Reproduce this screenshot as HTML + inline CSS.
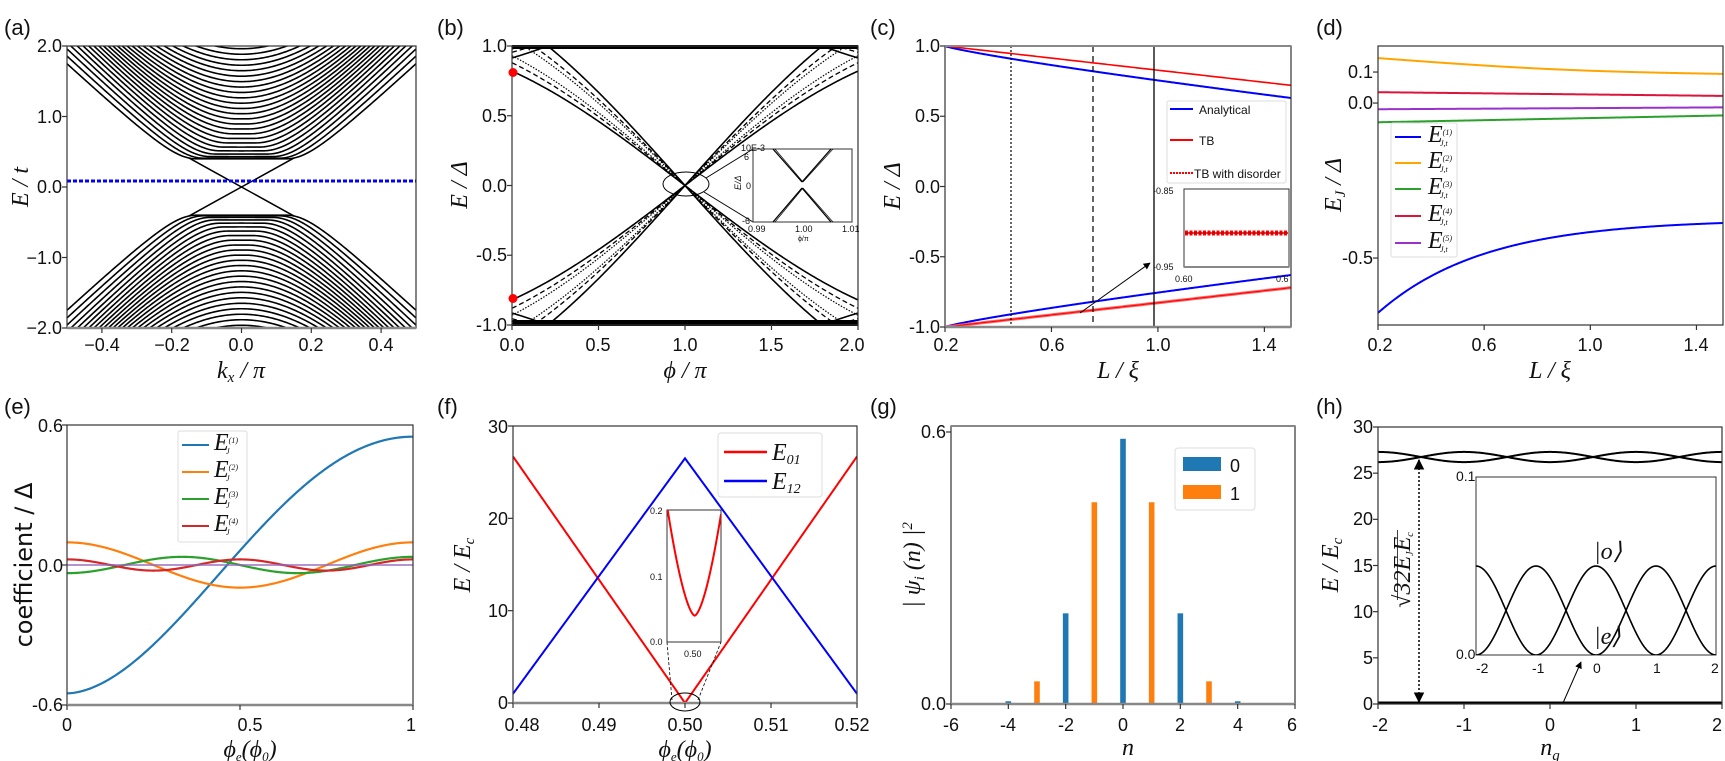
<!DOCTYPE html>
<html><head><meta charset="utf-8"><style>
html,body{margin:0;padding:0;background:#fff;}
svg{display:block;}
.t{font-family:"Liberation Sans Narrow","Liberation Sans",sans-serif;font-size:18px;fill:#111;}
.ts{font-family:"Liberation Sans Narrow","Liberation Sans",sans-serif;font-size:9px;fill:#111;}
.m{font-family:"Liberation Serif",serif;font-style:italic;font-size:24px;fill:#111;}
.pl{font-family:"Liberation Sans",sans-serif;font-size:22px;fill:#111;}
.lg{font-family:"Liberation Sans Narrow","Liberation Sans",sans-serif;font-size:12px;fill:#111;}
</style></head><body>
<svg id="s" width="1725" height="761" viewBox="0 0 1725 761" xmlns="http://www.w3.org/2000/svg">
<defs>
<clipPath id="ca"><rect x="67" y="46" width="349" height="282"/></clipPath>
<clipPath id="cb"><rect x="512" y="46" width="346" height="279"/></clipPath>
<clipPath id="cc"><rect x="945" y="46" width="346" height="281"/></clipPath>
<clipPath id="cd"><rect x="1378" y="46" width="345" height="279"/></clipPath>
<clipPath id="ce"><rect x="67" y="425" width="346" height="280"/></clipPath>
<clipPath id="cf"><rect x="513" y="426" width="344" height="277"/></clipPath>
<clipPath id="cg"><rect x="951" y="426" width="344" height="278"/></clipPath>
<clipPath id="ch"><rect x="1378" y="427" width="344" height="277"/></clipPath>
<clipPath id="cbi"><rect x="753" y="149" width="99" height="73"/></clipPath>
<clipPath id="cfi"><rect x="667" y="510" width="54" height="132"/></clipPath>
<clipPath id="chi"><rect x="1476" y="477" width="240" height="178"/></clipPath>
<marker id="ah" viewBox="0 0 10 10" refX="9" refY="5" markerWidth="7" markerHeight="7" orient="auto-start-reverse"><path d="M0,0 L10,5 L0,10 z" fill="#000"/></marker>
</defs>
<g id="curves"></g>

<text class="pl" x="4" y="35">(a)</text>
<text class="pl" x="437" y="35">(b)</text>
<text class="pl" x="870" y="35">(c)</text>
<text class="pl" x="1316" y="35">(d)</text>
<text class="pl" x="4" y="414">(e)</text>
<text class="pl" x="437" y="414">(f)</text>
<text class="pl" x="870" y="414">(g)</text>
<text class="pl" x="1316" y="414">(h)</text>

<g class="t" text-anchor="end">
<text x="62" y="52">2.0</text><text x="62" y="123">1.0</text><text x="62" y="193">0.0</text><text x="62" y="264">−1.0</text><text x="62" y="334">−2.0</text>
</g>
<g class="t" text-anchor="middle">
<text x="102" y="351">−0.4</text><text x="172" y="351">−0.2</text><text x="241" y="351">0.0</text><text x="311" y="351">0.2</text><text x="381" y="351">0.4</text>
</g>
<text class="m" transform="translate(28,187) rotate(-90)" text-anchor="middle">E / t</text>
<text class="m" x="241" y="378" text-anchor="middle">k<tspan font-size="15" dy="4">x</tspan><tspan dy="-4"> / π</tspan></text>

<g class="t" text-anchor="end">
<text x="507" y="52">1.0</text><text x="507" y="122">0.5</text><text x="507" y="192">0.0</text><text x="507" y="261">-0.5</text><text x="507" y="331">-1.0</text>
</g>
<g class="t" text-anchor="middle">
<text x="512" y="351">0.0</text><text x="598" y="351">0.5</text><text x="685" y="351">1.0</text><text x="771" y="351">1.5</text><text x="852" y="351">2.0</text>
</g>
<text class="m" transform="translate(467,185) rotate(-90)" text-anchor="middle">E / Δ</text>
<text class="m" x="685" y="378" text-anchor="middle">ϕ / π</text>

<g class="t" text-anchor="end">
<text x="940" y="52">1.0</text><text x="940" y="122">0.5</text><text x="940" y="193">0.0</text><text x="940" y="263">-0.5</text><text x="940" y="333">-1.0</text>
</g>
<g class="t" text-anchor="middle">
<text x="946" y="351">0.2</text><text x="1052" y="351">0.6</text><text x="1158" y="351">1.0</text><text x="1264" y="351">1.4</text>
</g>
<text class="m" transform="translate(900,186) rotate(-90)" text-anchor="middle">E / Δ</text>
<text class="m" x="1118" y="378" text-anchor="middle">L / ξ</text>

<g class="t" text-anchor="end">
<text x="1373" y="78">0.1</text><text x="1373" y="109">0.0</text><text x="1373" y="264">-0.5</text>
</g>
<g class="t" text-anchor="middle">
<text x="1380" y="351">0.2</text><text x="1484" y="351">0.6</text><text x="1590" y="351">1.0</text><text x="1696" y="351">1.4</text>
</g>
<text class="m" transform="translate(1341,185) rotate(-90)" text-anchor="middle">E<tspan font-size="15" dy="4">J</tspan><tspan dy="-4"> / Δ</tspan></text>
<text class="m" x="1550" y="378" text-anchor="middle">L / ξ</text>

<g class="t" text-anchor="end">
<text x="63" y="432">0.6</text><text x="63" y="572">0.0</text><text x="63" y="711">-0.6</text>
</g>
<g class="t" text-anchor="middle">
<text x="67" y="731">0</text><text x="250" y="731">0.5</text><text x="411" y="731">1</text>
</g>
<text x="0" y="0" transform="translate(32,565) rotate(-90)" text-anchor="middle" style="font-family:'DejaVu Sans',sans-serif;font-size:24px;fill:#111">coefficient / Δ</text>
<text class="m" x="250" y="757" text-anchor="middle" font-size="20">ϕ<tspan font-size="13" dy="4">e</tspan><tspan dy="-4">(ϕ</tspan><tspan font-size="13" dy="4">0</tspan><tspan dy="-4">)</tspan></text>

<g class="t" text-anchor="end">
<text x="508" y="433">30</text><text x="508" y="617">10</text><text x="508" y="525">20</text><text x="508" y="709">0</text>
</g>
<g class="t" text-anchor="middle">
<text x="522" y="731">0.48</text><text x="599" y="731">0.49</text><text x="685" y="731">0.50</text><text x="771" y="731">0.51</text><text x="852" y="731">0.52</text>
</g>
<text class="m" transform="translate(470,565) rotate(-90)" text-anchor="middle">E / E<tspan font-size="15" dy="4">c</tspan></text>
<text class="m" x="685" y="757" text-anchor="middle" font-size="20">ϕ<tspan font-size="13" dy="4">e</tspan><tspan dy="-4">(ϕ</tspan><tspan font-size="13" dy="4">0</tspan><tspan dy="-4">)</tspan></text>

<g class="t" text-anchor="end">
<text x="946" y="438">0.6</text><text x="946" y="710">0.0</text>
</g>
<g class="t" text-anchor="middle">
<text x="951" y="731">-6</text><text x="1008" y="731">-4</text><text x="1066" y="731">-2</text><text x="1123" y="731">0</text><text x="1180" y="731">2</text><text x="1238" y="731">4</text><text x="1292" y="731">6</text>
</g>
<text class="m" transform="translate(920,565) rotate(-90)" text-anchor="middle">| ψ<tspan font-size="15" dy="4">i</tspan><tspan dy="-4"> (n) |</tspan><tspan font-size="15" dy="-8">2</tspan></text>
<text class="m" x="1128" y="755" text-anchor="middle" font-size="36">n</text>

<g class="t" text-anchor="end">
<text x="1373" y="433">30</text><text x="1373" y="479">25</text><text x="1373" y="525">20</text><text x="1373" y="572">15</text><text x="1373" y="618">10</text><text x="1373" y="664">5</text><text x="1373" y="710">0</text>
</g>
<g class="t" text-anchor="middle">
<text x="1380" y="731">-2</text><text x="1464" y="731">-1</text><text x="1550" y="731">0</text><text x="1636" y="731">1</text><text x="1717" y="731">2</text>
</g>
<text class="m" transform="translate(1338,565) rotate(-90)" text-anchor="middle">E / E<tspan font-size="15" dy="4">c</tspan></text>
<text class="m" x="1550" y="755" text-anchor="middle">n<tspan font-size="15" dy="5">g</tspan></text>
<text class="m" font-size="15" transform="translate(1410,570) rotate(-90)" text-anchor="middle">√32E<tspan font-size="10" dy="3">J</tspan><tspan dy="-3">E</tspan><tspan font-size="10" dy="3">c</tspan></text>
<line x1="1397.5" y1="530" x2="1397.5" y2="600" stroke="#111" stroke-width="0.8"/>

<g class="ts">
<text x="741" y="151">10E-3</text>
<text x="744" y="160">6</text><text x="746" y="189">0</text><text x="742" y="224">-6</text>
<text x="748" y="232">0.99</text><text x="795" y="232">1.00</text><text x="842" y="232">1.01</text>
<text x="798" y="241" font-size="7">ϕ/π</text>
<text x="736" y="195" font-size="9" transform="rotate(-90 736 190)" font-style="italic">E/Δ</text>
<text x="1153" y="194">-0.85</text><text x="1153" y="270">-0.95</text>
<text x="1175" y="282">0.60</text><text x="1276" y="282">0.6</text>
<text x="650" y="514">0.2</text><text x="650" y="580">0.1</text><text x="650" y="645">0.0</text><text x="684" y="657">0.50</text>
</g>
<g class="t" style="font-size:14px">
<text x="1456" y="481">0.1</text><text x="1456" y="659">0.0</text>
<text x="1476" y="673">-2</text><text x="1532" y="673">-1</text><text x="1593" y="673">0</text><text x="1653" y="673">1</text><text x="1711" y="673">2</text>
</g>
<text class="m" x="1594" y="559" font-size="11">|o⟩</text>
<text class="m" x="1594" y="644" font-size="11">|e⟩</text>

<rect x="1167" y="101" width="119" height="82" fill="#fff" stroke="#ddd" rx="2"/>
<line x1="1170" y1="109" x2="1193" y2="109" stroke="#0000ff" stroke-width="2"/>
<line x1="1170" y1="140" x2="1193" y2="140" stroke="#ff0000" stroke-width="2"/>
<line x1="1170" y1="173" x2="1193" y2="173" stroke="#ff0000" stroke-width="2" stroke-dasharray="2,1"/>
<text class="lg" x="1199" y="114">Analytical</text>
<text class="lg" x="1199" y="145">TB</text>
<text class="lg" x="1194" y="178">TB with disorder</text>

<rect x="1391" y="123" width="66" height="134" fill="#fff" stroke="#ddd" rx="2"/>
<g stroke-width="2">
<line x1="1395" y1="137" x2="1421" y2="137" stroke="#0000ff"/>
<line x1="1395" y1="163" x2="1421" y2="163" stroke="#ffa500"/>
<line x1="1395" y1="189" x2="1421" y2="189" stroke="#2ca02c"/>
<line x1="1395" y1="216" x2="1421" y2="216" stroke="#dc143c"/>
<line x1="1395" y1="243" x2="1421" y2="243" stroke="#9932cc"/>
</g>
<g class="m" font-size="13">
<text x="1428" y="142">E<tspan font-size="8" dy="-7">(1)</tspan><tspan font-size="8" dx="-12" dy="11">J,t</tspan></text>
<text x="1428" y="168">E<tspan font-size="8" dy="-7">(2)</tspan><tspan font-size="8" dx="-12" dy="11">J,t</tspan></text>
<text x="1428" y="194">E<tspan font-size="8" dy="-7">(3)</tspan><tspan font-size="8" dx="-12" dy="11">J,t</tspan></text>
<text x="1428" y="221">E<tspan font-size="8" dy="-7">(4)</tspan><tspan font-size="8" dx="-12" dy="11">J,t</tspan></text>
<text x="1428" y="248">E<tspan font-size="8" dy="-7">(5)</tspan><tspan font-size="8" dx="-12" dy="11">J,t</tspan></text>
</g>

<rect x="178" y="431" width="69" height="111" fill="#fff" stroke="#ddd" rx="2"/>
<g stroke-width="2">
<line x1="182" y1="445" x2="209" y2="445" stroke="#1f77b4"/>
<line x1="182" y1="472" x2="209" y2="472" stroke="#ff7f0e"/>
<line x1="182" y1="499" x2="209" y2="499" stroke="#2ca02c"/>
<line x1="182" y1="526" x2="209" y2="526" stroke="#d62728"/>
</g>
<g class="m" font-size="13">
<text x="214" y="450">E<tspan font-size="8" dy="-7">(1)</tspan><tspan font-size="8" dx="-12" dy="11">J</tspan></text>
<text x="214" y="477">E<tspan font-size="8" dy="-7">(2)</tspan><tspan font-size="8" dx="-12" dy="11">J</tspan></text>
<text x="214" y="504">E<tspan font-size="8" dy="-7">(3)</tspan><tspan font-size="8" dx="-12" dy="11">J</tspan></text>
<text x="214" y="531">E<tspan font-size="8" dy="-7">(4)</tspan><tspan font-size="8" dx="-12" dy="11">J</tspan></text>
</g>

<rect x="718" y="433" width="104" height="64" fill="#fff" stroke="#ddd" rx="3"/>
<line x1="724" y1="452" x2="767" y2="452" stroke="#ff0000" stroke-width="2.5"/>
<line x1="724" y1="481" x2="767" y2="481" stroke="#0000ff" stroke-width="2.5"/>
<text class="m" x="772" y="460" font-size="21">E<tspan font-size="14" dy="4">01</tspan></text>
<text class="m" x="772" y="489" font-size="21">E<tspan font-size="14" dy="4">12</tspan></text>

<rect x="1175" y="448" width="80" height="62" fill="#fff" stroke="#ddd" rx="3"/>
<rect x="1183" y="457" width="38" height="14" fill="#1f77b4"/>
<rect x="1183" y="485" width="38" height="14" fill="#ff7f0e"/>
<text class="t" x="1230" y="472" font-size="22">0</text>
<text class="t" x="1230" y="500" font-size="22">1</text>
</svg>
<script>
const NS="http://www.w3.org/2000/svg";
const G=document.getElementById('curves');
const P={
a:[67,416,46,328,-0.5,0.5,-2,2],
b:[512,858,46,325,0,2,-1,1],
c:[945,1291,46,327,0.2,1.5,-1,1],
d:[1378,1723,46,325,0.2,1.5,-0.716,0.184],
e:[67,413,425,705,0,1,-0.6,0.6],
f:[513,857,426,703,0.48,0.52,0,30],
g:[951,1295,426,704,-6,6,0,0.6132],
h:[1378,1722,427,704,-2,2,0,30],
bi:[753,852,149,222,0.99,1.01,-6,6],
ci:[1184,1289,189,267,0.6,0.61,-0.95,-0.85],
fi:[667,721,510,642,0.498,0.502,0,0.2],
hi:[1476,1716,477,655,-2,2,0,0.1]};
function X(p,x){const q=P[p];return q[0]+(x-q[4])/(q[5]-q[4])*(q[1]-q[0]);}
function Y(p,y){const q=P[p];return q[3]-(y-q[6])/(q[7]-q[6])*(q[3]-q[2]);}
function el(t,a,par){const e=document.createElementNS(NS,t);for(const k in a)e.setAttribute(k,a[k]);(par||G).appendChild(e);return e;}
function curve(p,f,x0,x1,attrs,clip,N){N=N||300;let d='';for(let i=0;i<=N;i++){const x=x0+(x1-x0)*i/N;const y=f(x);d+=(i?'L':'M')+X(p,x).toFixed(2)+','+Y(p,y).toFixed(2);}
 const a=Object.assign({d:d,fill:'none'},attrs);if(clip)a['clip-path']='url(#'+clip+')';return el('path',a);}
function line(x1,y1,x2,y2,a){return el('line',Object.assign({x1,y1,x2,y2},a));}
function box(p,col,bottomGray){const q=P[p];el('rect',{x:q[0],y:q[2],width:q[1]-q[0],height:q[3]-q[2],fill:'none',stroke:col||'#333','stroke-width':1.2});
 if(bottomGray)line(q[0],q[3],q[1],q[3],{stroke:'#888','stroke-width':2.5});}
function ticks(p,xs,ys){const q=P[p];xs.forEach(x=>line(X(p,x),q[3],X(p,x),q[3]+5,{stroke:'#333','stroke-width':1.2}));ys.forEach(y=>line(q[0]-5,Y(p,y),q[0],Y(p,y),{stroke:'#333','stroke-width':1.2}));}

// (a)
for(let n=0;n<25;n++){const g=Math.sqrt(0.16+Math.pow(0.08*n,2));
 const w=0.13*Math.pow(1-n/24,4);
 const f=k=>{const u=Math.max(Math.abs(k)-w,0);return Math.sqrt(g*g+Math.pow(4.6*u,2))+1.5*(n/24)*k*k;};
 curve('a',f,-0.5,0.5,{stroke:'#000','stroke-width':1.6},'ca',200);
 curve('a',k=>-f(k),-0.5,0.5,{stroke:'#000','stroke-width':1.6},'ca',200);}
curve('a',k=>-k/0.15*0.41,-0.15,0.15,{stroke:'#000','stroke-width':1.5},'ca',4);
curve('a',k=>k/0.15*0.41,-0.15,0.15,{stroke:'#000','stroke-width':1.5},'ca',4);
line(67,Y('a',0.085),416,Y('a',0.085),{stroke:'#0000ff','stroke-width':3,'stroke-dasharray':'4,2'});
box('a','#333',true);ticks('a',[-0.4,-0.2,0,0.2,0.4],[-2,-1,0,1,2]);

// (b)
const S=u=>Math.sin(0.6*u*Math.PI/2)/Math.sin(0.3*Math.PI);
function bf(k){return x=>{const s=Math.sign(1-x)||1;let g=k*S(Math.abs(1-x));if(g>1)g=1-(g-1)*0.45;return s*g;};}
const fams=[[0.82,'none',1.6],[1.19,'none',1.6],[0.88,'5,3',1.3],[1.1,'5,3',1.3],[0.93,'1.5,1.5',1.2],[1.05,'1.5,1.5',1.2]];
fams.forEach(([k,da,w])=>{const f=bf(k);curve('b',f,0,2,{stroke:'#000','stroke-width':w,'stroke-dasharray':da},'cb');curve('b',x=>-f(x),0,2,{stroke:'#000','stroke-width':w,'stroke-dasharray':da},'cb');});
line(512,47,858,47,{stroke:'#000','stroke-width':4});
line(512,323,858,323,{stroke:'#000','stroke-width':6});
box('b','#333');ticks('b',[0,0.5,1,1.5,2],[-1,-0.5,0,0.5,1]);
el('circle',{cx:513,cy:Y('b',0.81),r:4.5,fill:'#f00'});
el('circle',{cx:513,cy:Y('b',-0.81),r:4.5,fill:'#f00'});
el('ellipse',{cx:686,cy:184,rx:23,ry:12,fill:'none',stroke:'#000','stroke-width':1});
line(706,178,753,149,{stroke:'#000','stroke-width':1});line(704,192,753,222,{stroke:'#000','stroke-width':1});
el('rect',{x:753,y:149,width:99,height:73,fill:'#fff',stroke:'#555','stroke-width':1.2});
[[773,149,802,182],[831,149,802,182],[773,222,802,188],[831,222,802,188]].forEach(v=>{line(v[0],v[1],v[2],v[3],{stroke:'#000','stroke-width':1.3});line(v[0]+2,v[1],v[2]+1,v[3],{stroke:'#000','stroke-width':0.6});});

// (c)
const bu=L=>1-0.37*Math.pow((L-0.2)/1.3,0.85), ru=L=>1-0.28*(L-0.2)/1.3;
curve('c',bu,0.2,1.5,{stroke:'#0000ff','stroke-width':2},'cc');
curve('c',ru,0.2,1.5,{stroke:'#ff0000','stroke-width':1.6},'cc');
curve('c',L=>-bu(L),0.2,1.5,{stroke:'#0000ff','stroke-width':2},'cc');
curve('c',L=>-ru(L),0.2,1.5,{stroke:'#ff6060','stroke-width':3},'cc');
curve('c',L=>-ru(L),0.2,1.5,{stroke:'#ff0000','stroke-width':1},'cc');
line(1011,46,1011,327,{stroke:'#000','stroke-width':1.2,'stroke-dasharray':'2,2'});
line(1093,46,1093,327,{stroke:'#000','stroke-width':1.2,'stroke-dasharray':'6,4'});
line(1154,46,1154,327,{stroke:'#000','stroke-width':1.3});
box('c','#333',true);line(945,46,1291,46,{stroke:'#888','stroke-width':2});
ticks('c',[0.2,0.6,1.0,1.4],[-1,-0.5,0,0.5,1]);
line(1080,313,1150,263,{stroke:'#000','stroke-width':1,'marker-end':'url(#ah)'});
el('rect',{x:1184,y:189,width:105,height:78,fill:'#fff',stroke:'#333','stroke-width':1});
line(1184,267,1289,267,{stroke:'#888','stroke-width':2});
line(1185,233,1288,233,{stroke:'#ff0000','stroke-width':5,'stroke-dasharray':'3,1.5'});
line(1185,233,1288,233,{stroke:'#cc0000','stroke-width':1.5});

// (d)
curve('d',L=>0.145-0.051*(L-0.2)/1.3-0.01*Math.sin(Math.PI*(L-0.2)/1.3),0.2,1.5,{stroke:'#ffa500','stroke-width':2},'cd');
curve('d',L=>0.035-0.012*(L-0.2)/1.3,0.2,1.5,{stroke:'#dc143c','stroke-width':2},'cd');
curve('d',L=>-0.02+0.006*(L-0.2)/1.3,0.2,1.5,{stroke:'#9932cc','stroke-width':2},'cd');
curve('d',L=>-0.062+0.022*(L-0.2)/1.3,0.2,1.5,{stroke:'#2ca02c','stroke-width':2},'cd');
curve('d',L=>-0.677+0.29*(1-Math.exp(-(L-0.2)/0.4))/(1-Math.exp(-3.25)),0.2,1.5,{stroke:'#0000ff','stroke-width':2},'cd');
box('d','#333');ticks('d',[0.2,0.6,1.0,1.4],[0.1,0,-0.5]);

// (e)
curve('e',x=>-0.55*Math.cos(Math.PI*Math.pow(x,0.9)),0,1,{stroke:'#1f77b4','stroke-width':2.2},'ce');
curve('e',x=>0.097*Math.cos(2*Math.PI*x),0,1,{stroke:'#ff7f0e','stroke-width':2.2},'ce');
curve('e',x=>-0.035*Math.cos(3*Math.PI*x),0,1,{stroke:'#2ca02c','stroke-width':2.2},'ce');
curve('e',x=>0.024*Math.cos(4*Math.PI*x),0,1,{stroke:'#d62728','stroke-width':2.2},'ce');
line(67,Y('e',0),413,Y('e',0),{stroke:'#9467bd','stroke-width':2,opacity:0.7});
box('e','#333',true);ticks('e',[0,0.5,1],[-0.6,0,0.6]);

// (f)
curve('f',x=>Math.sqrt(Math.pow(1335*(x-0.5),2)+0.0016),0.48,0.52,{stroke:'#ff0000','stroke-width':2},'cf',400);
curve('f',x=>26.5-1275*Math.abs(x-0.5),0.48,0.52,{stroke:'#0000ff','stroke-width':2},'cf',400);
box('f','#333',true);ticks('f',[0.48,0.49,0.5,0.51,0.52],[0,10,20,30]);
el('ellipse',{cx:685,cy:702,rx:15,ry:9,fill:'none',stroke:'#000','stroke-width':1});
line(672,700,667,642,{stroke:'#000','stroke-width':0.8,'stroke-dasharray':'3,2'});
line(698,700,721,642,{stroke:'#000','stroke-width':0.8,'stroke-dasharray':'3,2'});
el('rect',{x:667,y:510,width:54,height:132,fill:'#fff',stroke:'#333','stroke-width':1});
curve('fi',x=>{const d=(x-0.50005)/0.002;return 0.04+0.16*Math.pow(Math.abs(d)>1?1:Math.abs(d),1.6);},0.498,0.502,{stroke:'#ff0000','stroke-width':2},'cfi',200);

// (g)
const bars=[[-4,0.006,'#1f77b4'],[-2,0.2,'#1f77b4'],[0,0.585,'#1f77b4'],[2,0.2,'#1f77b4'],[4,0.006,'#1f77b4'],[-3,0.05,'#ff7f0e'],[-1,0.445,'#ff7f0e'],[1,0.445,'#ff7f0e'],[3,0.05,'#ff7f0e']];
bars.forEach(([n,h,c])=>el('rect',{x:X('g',n)-2.8,y:Y('g',h),width:5.6,height:704-Y('g',h),fill:c}));
box('g','#333',true);line(951,426,1295,426,{stroke:'#888','stroke-width':2});
ticks('g',[-6,-4,-2,0,2,4,6],[0,0.6]);

// (h)
curve('h',x=>26.75+0.55*Math.cos(Math.PI*x),-2,2,{stroke:'#000','stroke-width':2},'ch');
curve('h',x=>26.75-0.55*Math.cos(Math.PI*x),-2,2,{stroke:'#000','stroke-width':2},'ch');
line(1378,703,1722,703,{stroke:'#000','stroke-width':3});
box('h','#333');ticks('h',[-2,-1,0,1,2],[0,5,10,15,20,25,30]);
line(1419,460,1419,702,{stroke:'#000','stroke-width':1.5,'stroke-dasharray':'2,2','marker-start':'url(#ah)','marker-end':'url(#ah)'});
el('rect',{x:1476,y:477,width:240,height:178,fill:'#fff',stroke:'#333','stroke-width':1});
curve('hi',x=>0.05*Math.pow(Math.cos(Math.PI*x/2),2),-2,2,{stroke:'#000','stroke-width':1.6},'chi');
curve('hi',x=>0.05*Math.pow(Math.sin(Math.PI*x/2),2),-2,2,{stroke:'#000','stroke-width':1.6},'chi');
line(1563,703,1581,662,{stroke:'#000','stroke-width':1,'marker-end':'url(#ah)'});
</script>
</body></html>
